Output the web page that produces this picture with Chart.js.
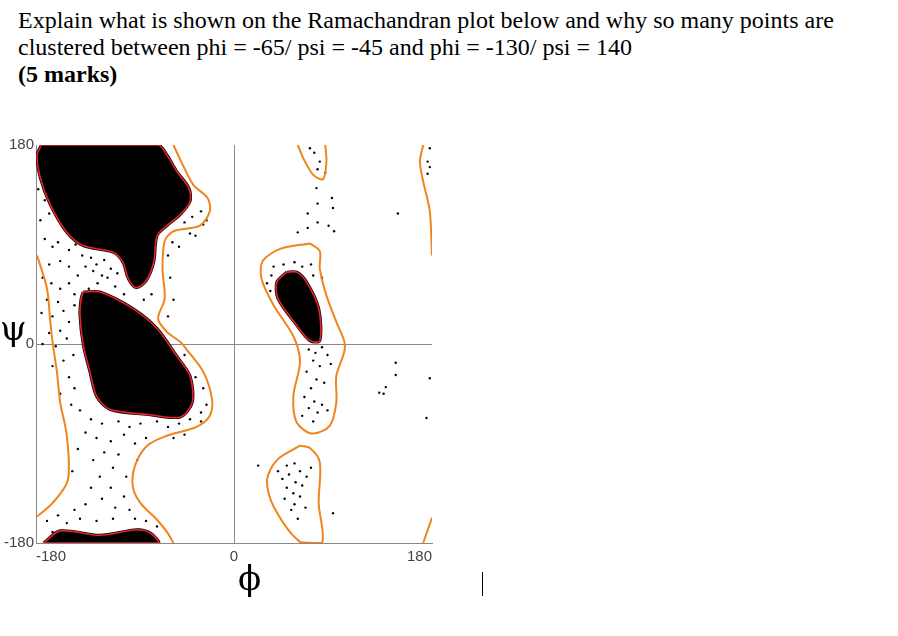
<!DOCTYPE html>
<html>
<head>
<meta charset="utf-8">
<script src="https://cdn.jsdelivr.net/npm/chart.js@4"></script>
<style>
  body { margin: 0; background: #fff; width: 898px; height: 636px; overflow: hidden; position: relative; }
  #q { position: absolute; left: 18px; top: 7px; font-family: "Liberation Serif", "Times New Roman", serif; font-size: 24px; line-height: 27px; color: #000; }
  #wrap { position: absolute; left: 0; top: 0; width: 898px; height: 636px; }
  #cursor { position: absolute; left: 482px; top: 572px; width: 1px; height: 24px; background: #000; }
</style>
</head>
<body>
<div id="q">Explain what is shown on the Ramachandran plot below and why so many points are<br>clustered between phi = -65/ psi = -45 and phi = -130/ psi = 140<br><b>(5 marks)</b></div>
<div id="wrap"><canvas id="chart" width="898" height="636"></canvas></div>
<div id="cursor"></div>
<script>
// contours, [phi, psi] in degrees
const redBeta = [[-175,180],[-179,171],[-176,150],[-167,126],[-152,101],[-137,89],[-110,83],[-101,74],[-96,59],[-89,51],[-80,57],[-73,74],[-70,98],[-61,107],[-49,117],[-40,129],[-41,141],[-52,156],[-61,171],[-69,180],[-175,180]];
const redAlpha = [[-137,47],[-122,47],[-92,32],[-70,14],[-52,-11],[-40,-29],[-38,-53],[-49,-66],[-76,-64],[-113,-59],[-125,-47],[-131,-25],[-137,-1],[-140,26],[-139,41],[-137,47]];
const redBottom = [[-173,-180],[-158,-169],[-122,-173],[-88,-168],[-76,-171],[-69,-180],[-173,-180]];
const redLeft = [[48,65],[39,56],[40,41],[57,17],[69,3],[78,3],[77,32],[66,56],[57,65],[48,65]];

const orangeBeta = [[-55,180],[-48,165],[-37,144],[-24,132],[-22,120],[-31,107],[-55,102],[-63,93],[-65,68],[-63,41],[-69,23],[-61,11],[-49,2],[-43,-5],[-28,-25],[-20,-50],[-22,-65],[-34,-75],[-61,-83],[-79,-92],[-90,-110],[-92,-129],[-85,-144],[-70,-159],[-61,-170],[-55,-180]];
const orangeEdge = [[-179,80],[-170,50],[-167,20],[-165,2],[-161,-25],[-158,-53],[-152,-83],[-151,-123],[-165,-144],[-179,-156]];
const orangeLeft = [[69,91],[42,86],[26,75],[25,59],[36,35],[54,7],[60,-16],[54,-47],[57,-71],[71,-81],[87,-74],[93,-53],[93,-29],[101,-2],[93,20],[84,44],[78,68],[78,84],[69,91]];
const orangeBlob = [[60,-92],[39,-105],[30,-123],[36,-147],[60,-179],[80,-180],[77,-144],[78,-107],[69,-94],[60,-92]];
const orangeTop = [[58,180],[63,168],[72,153],[81,149],[84,165],[83,180]];
const orangeRight = [[172,180],[169,165],[172,147],[178,120],[180,80]];
const orangeRightLow = [[180,-157],[172,-180]];

// scattered residues outside the dense cores
const ptsBridge = [[-172,95],[-165,88],[-160,92],[-150,85],[-144,90],[-138,80],[-130,78],[-125,72],[-118,76],[-112,68],[-106,64],[-120,62],[-128,66],[-135,70],[-142,62],[-150,70],[-158,75],[-168,72],[-174,60],[-166,55],[-158,50],[-150,55],[-145,45],[-160,38],[-170,40],[-175,28],[-165,25],[-155,30],[-150,20],[-158,12],[-168,10],[-174,0],[-162,-2],[-152,5],[-146,-10],[-155,-15],[-165,-20],[-150,-30],[-145,-40],[-158,-45],[-148,-55],[-140,-60],[-115,60],[-100,45],[-108,52],[-124,55],[-132,50],[-145,35],[-176,112],[-172,130],[-168,118],[-178,140]];
const ptsBelow = [[-130,-68],[-120,-72],[-105,-70],[-95,-75],[-85,-72],[-70,-70],[-60,-75],[-50,-72],[-40,-68],[-30,-62],[-25,-55],[-135,-80],[-125,-85],[-112,-88],[-100,-82],[-90,-90],[-80,-85],[-118,-98],[-105,-100],[-128,-105],[-110,-112],[-98,-120],[-122,-120],[-130,-130],[-112,-130],[-100,-138],[-120,-140],[-135,-145],[-108,-148],[-95,-150],[-145,-150],[-160,-155],[-170,-160],[-152,-162],[-140,-158],[-125,-160],[-110,-158],[-90,-158],[-80,-160],[-70,-165],[-165,-170],[-150,-175],[-130,-176],[-100,-176],[-85,-174],[-147,-115],[-142,-95],[-88,-105],[-55,-85],[-45,-82]];
const ptsBetaEdge = [[-38,115],[-30,120],[-28,108],[-25,112],[-45,110],[-40,100],[-35,98],[-56,92],[-50,88],[-60,80],[-58,60],[-55,40],[-60,25],[-75,45],[-82,40],[-45,-10],[-35,-30],[-28,-40],[-30,-70],[-65,118],[-62,130]];
const ptsRight = [[75,141],[89,132],[76,127],[90,123],[67,118],[76,110],[86,107],[67,105],[58,101],[91,102],[149,118],[69,177],[73,173],[78,165],[76,158],[83,155],[178,177],[176,165],[178,160],[176,154],[147,-17],[147,-28],[138,-39],[132,-44],[136,-45],[178,-31],[175,-67],[22,-110],[90,-153],[34,62],[36,70],[45,72],[55,74],[62,70],[70,72],[72,62],[80,60],[30,55],[33,48],[68,-5],[74,-8],[80,-3],[85,-10],[72,-15],[78,-20],[88,-18],[66,-25],[75,-32],[82,-35],[70,-40],[64,-48],[73,-52],[80,-55],[68,-58],[76,-62],[85,-60],[62,-65],[72,-70],[48,-110],[55,-108],[60,-115],[50,-118],[44,-122],[56,-125],[62,-128],[48,-130],[54,-135],[60,-138],[46,-140],[55,-145],[65,-148],[52,-150],[58,-158],[70,-112],[66,-120],[40,-115]];

const polyData = (p) => p.map(([x, y]) => ({ x: x, y: y }));
const allPts = [].concat(ptsBridge, ptsBelow, ptsBetaEdge, ptsRight);

const datasets = [];
[redBeta, redAlpha, redBottom, redLeft].forEach((p) => {
  datasets.push({ type: "scatter", data: polyData(p), showLine: true, fill: "shape", backgroundColor: "#000", borderColor: "#000", borderWidth: 3, pointRadius: 0, tension: 0.3, order: 3 });
  datasets.push({ type: "scatter", data: polyData(p), showLine: true, fill: false, borderColor: "#e8212a", borderWidth: 1.6, pointRadius: 0, tension: 0.3, order: 0 });
});
[orangeBeta, orangeEdge, orangeLeft, orangeBlob, orangeTop, orangeRight, orangeRightLow].forEach((p) => {
  datasets.push({ type: "scatter", data: polyData(p), showLine: true, fill: false, borderColor: "#f0841e", borderWidth: 2, pointRadius: 0, tension: 0.3, order: 1 });
});
datasets.push({ type: "scatter", data: polyData(allPts), pointRadius: 1.2, backgroundColor: "#000", borderWidth: 0, order: 2 });

const greekLabels = {
  id: "greek",
  afterDraw(c) {
    const ctx = c.ctx;
    ctx.save();
    ctx.fillStyle = "#000";
    ctx.font = "34px 'DejaVu Serif', serif";
    ctx.textBaseline = "alphabetic";
    ctx.fillText("\u03C8", 0, 340);
    ctx.fillText("\u03D5", 238, 590);
    ctx.restore();
  },
};

new Chart(document.getElementById("chart"), {
  type: "scatter",
  data: { datasets: datasets },
  options: {
    responsive: false,
    animation: false,
    layout: { padding: { left: 0, top: 145, right: 466, bottom: 70 } },
    plugins: { legend: { display: false }, tooltip: { enabled: false } },
    scales: {
      x: {
        min: -180, max: 180,
        afterFit: (s) => { s.height = 23; },
        afterBuildTicks: (s) => { s.ticks = [{ value: -180 }, { value: 0 }, { value: 180 }]; },
        ticks: { color: "#444", font: { family: "Liberation Sans", size: 15 }, padding: 5, maxRotation: 0, align: "inner" },
        grid: { color: (c) => (c.tick && c.tick.value === 0 ? "#888" : "rgba(0,0,0,0)"), drawTicks: false },
        border: { color: "#888" },
      },
      y: {
        min: -180, max: 180,
        afterFit: (s) => { s.width = 36; },
        afterBuildTicks: (s) => { s.ticks = [{ value: -180 }, { value: 0 }, { value: 180 }]; },
        ticks: { color: "#444", font: { family: "Liberation Sans", size: 15 }, padding: 2 },
        grid: { color: (c) => (c.tick && c.tick.value === 0 ? "#888" : "rgba(0,0,0,0)"), drawTicks: false },
        border: { color: "#888" },
      },
    },
  },
  plugins: [greekLabels],
});
</script>
</body>
</html>
